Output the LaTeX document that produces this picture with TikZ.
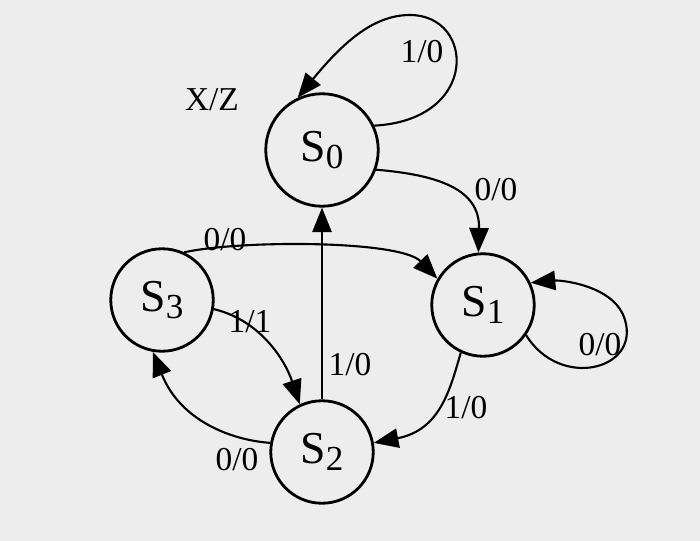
\documentclass[tikz,border=0pt]{standalone}
\usepackage{fontspec}
\setmainfont{Liberation Serif}
\usetikzlibrary{arrows.meta}
\newcommand{\sub}[1]{\raisebox{-0.35ex}{\fontsize{20}{20}\selectfont #1}}
\begin{document}
\begin{tikzpicture}[x=0.02cm,y=-0.02cm,
  st/.style={circle,draw,line width=1.6pt,minimum size=2.05cm,font=\fontsize{26}{26}\selectfont,inner sep=0pt},
  tr/.style={line width=1.2pt,-{Triangle[length=14pt,width=11pt]}},
  lb/.style={font=\fontsize{19}{19}\selectfont,inner sep=1pt}]
\fill[black!7] (0,0) rectangle (700,541);
\useasboundingbox (0,0) rectangle (700,541);
\node[st,minimum size=2.25cm] (s0) at (322,150) {S\sub{0}};
\node[st] (s1) at (483,305) {S\sub{1}};
\node[st] (s3) at (162,300) {S\sub{3}};
\node[st] (s2) at (322,452) {S\sub{2}};
\node[lb] (xz) at (212,100) {X/Z};
% S0 self loop
\draw[tr] (s0.25) .. controls (480,120) and (475,15) .. (410,15) .. controls (375,15) and (345,40) .. (s0.115);
\node[lb] (l1) at (422,52) {1/0};
% S0 -> S1
\draw[tr] (s0.-20) .. controls (440,175) and (480,190) .. (s1.95);
\node[lb] (l2) at (496,190) {0/0};
% S3 -> S1
\draw[tr] (s3.65) .. controls (240,240) and (400,240) .. (s1.150);
\node[lb] (l3) at (225,240) {0/0};
% S1 self loop
\draw[tr] (s1.-35) .. controls (560,390) and (640,370) .. (625,320) .. controls (615,285) and (560,280) .. (s1.25);
\node[lb] (l4) at (600,345) {0/0};
% S3 -> S2
\draw[tr] (s3.-10) .. controls (260,320) and (285,360) .. (s2.115);
\node[lb] (l5) at (250,322) {1/1};
% S2 -> S0
\draw[tr] (s2.north) -- (s0.south);
\node[lb] (l6) at (350,365) {1/0};
% S1 -> S2
\draw[tr] (s1.-115) .. controls (450,390) and (440,430) .. (s2.10);
\node[lb] (l7) at (466,408) {1/0};
% S2 -> S3
\draw[tr] (s2.170) .. controls (230,440) and (180,420) .. (s3.-100);
\node[lb] (l8) at (237,460) {0/0};
\end{tikzpicture}
\end{document}
